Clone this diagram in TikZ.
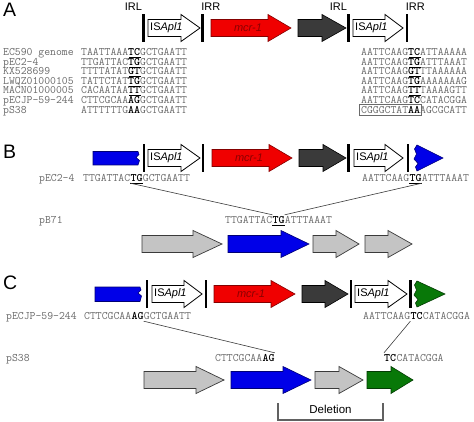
\documentclass[tikz,border=0pt]{standalone}
\usepackage{fontspec}
\setmainfont{Liberation Sans}
\usetikzlibrary{positioning}

\definecolor{clrSeq}{HTML}{6A6A6A}
\definecolor{clrRed}{HTML}{F00000}
\definecolor{clrMcr}{HTML}{8C0000}
\definecolor{clrDark}{HTML}{3A3A3A}
\definecolor{clrLight}{HTML}{C4C4C4}
\definecolor{clrBlue}{HTML}{0000E8}
\definecolor{clrGreen}{HTML}{087808}

\newcommand{\seqfont}{\fontsize{11.4}{11}\selectfont\ttfamily}
\newcommand{\hlb}[1]{\textbf{\color{black}#1}}
\newcommand{\GeneArrow}[5]{%
  \draw[#1] (#2,#5-8.5) -- (#3,#5-8.5) -- (#3,#5-13.5) -- (#4,#5)
    -- (#3,#5+13.5) -- (#3,#5+8.5) -- (#2,#5+8.5) -- cycle;}

\tikzset{
  isgene/.style    = {draw=black, fill=white, line width=0.8pt},
  mcrgene/.style   = {draw=clrRed!55!black, fill=clrRed, line width=0.6pt},
  darkgene/.style  = {draw=black, fill=clrDark, line width=0.6pt},
  graygene/.style  = {draw=clrDark, fill=clrLight, line width=0.7pt},
  bluegene/.style  = {draw=clrBlue!50!black, fill=clrBlue, line width=0.6pt},
  greengene/.style = {draw=clrGreen!50!black, fill=clrGreen, line width=0.6pt},
  bar/.style       = {fill=black, inner sep=0pt, minimum width=2.4pt, minimum height=28pt},
  irlab/.style     = {font=\fontsize{11}{11}\selectfont, inner sep=0pt},
  istext/.style    = {font=\fontsize{11}{11}\selectfont, inner sep=0pt, anchor=west},
  mcrtext/.style   = {font=\fontsize{11}{11}\selectfont, inner sep=0pt, text=clrMcr},
  panel/.style     = {font=\fontsize{19.5}{20}\selectfont, inner sep=0pt, anchor=north west},
  seq/.style       = {font=\seqfont, text=clrSeq, inner sep=0pt, text height=7pt,
                      text depth=0pt, anchor=base west},
  hl/.style        = {seq, font=\seqfont\bfseries, text=black, inner ysep=1.5pt},
  uline/.style     = {line width=0.8pt, black},
  link/.style      = {line width=0.6pt, clrDark},
  seqbox/.style    = {line width=0.6pt, clrSeq},
  bracket/.style   = {line width=1.2pt, clrDark!80},
  deltext/.style   = {font=\fontsize{11.5}{12}\selectfont, inner sep=0pt}
}

\begin{document}
\begin{tikzpicture}[x=1pt, y=-1pt]
\useasboundingbox (0,0) rectangle (474,422);

% panel A, genes

\node[panel] (pA) at (3,3) {A};

\GeneArrow{isgene}{148}{181}{200}{28}
\GeneArrow{mcrgene}{211}{268}{291}{28}
\GeneArrow{darkgene}{298}{322}{346}{28}
\GeneArrow{isgene}{353}{385}{403}{28}

\node[istext] (isA1) at (150,28) {IS\textit{Apl1}};
\node[istext] (isA2) at (355,28) {IS\textit{Apl1}};
\node[mcrtext] (mcrA) at (248,28) {\textit{mcr-1}};

\node[bar] (irlA1) at (143.5,28) {};
\node[bar] (irrA1) at (202.5,28) {};
\node[bar] (irlA2) at (348.5,28) {};
\node[bar] (irrA2) at (407,28) {};

\node[irlab, anchor=base east] (tIRL1) at ([yshift=3pt]irlA1.north west) {IRL};
\node[irlab, anchor=base west] (tIRR1) at ([yshift=3pt]irrA1.north west) {IRR};
\node[irlab, anchor=base east] (tIRL2) at ([yshift=3pt]irlA2.north west) {IRL};
\node[irlab, anchor=base west] (tIRR2) at ([yshift=3pt]irrA2.north west) {IRR};

% panel A, sequences

\node[seq] (nA1) at (3,55.5)  {EC590 genome};
\node[seq] (nA2) at (3,65.1)  {pEC2-4};
\node[seq] (nA3) at (3,74.7)  {KX528699};
\node[seq] (nA4) at (3,84.3)  {LWQZ01000105};
\node[seq] (nA5) at (3,93.9)  {MACN01000005};
\node[seq] (nA6) at (3,103.5) {pECJP-59-244};
\node[seq] (nA7) at (3,113.1) {pS38};

\node[seq] (lA1) at (81,55.5)  {TAATTAAA\hlb{TC}GCTGAATT};
\node[seq] (lA2) at (81,65.1)  {TTGATTAC\hlb{TG}GCTGAATT};
\node[seq] (lA3) at (81,74.7)  {TTTTATAT\hlb{GT}GCTGAATT};
\node[seq] (lA4) at (81,84.3)  {TATTCTAT\hlb{TG}GCTGAATT};
\node[seq] (lA5) at (81,93.9)  {CACAATAA\hlb{TT}GCTGAATT};
\node[seq] (lA6) at (81,103.5) {CTTCGCAA\hlb{AG}GCTGAATT};
\node[seq] (lA7) at (81,113.1) {ATTTTTTG\hlb{AA}GCTGAATT};

\node[seq] (rA1) at (361,55.5)  {AATTCAAG\hlb{TC}ATTAAAAA};
\node[seq] (rA2) at (361,65.1)  {AATTCAAG\hlb{TG}ATTTAAAT};
\node[seq] (rA3) at (361,74.7)  {AATTCAAG\hlb{GT}TTAAAAAA};
\node[seq] (rA4) at (361,84.3)  {AATTCAAG\hlb{TG}AAAAAAAG};
\node[seq] (rA5) at (361,93.9)  {AATTCAAG\hlb{TT}TAAAAGTT};
\node[seq] (rA6) at (361,103.5) {AATTCAAG\hlb{TC}CATACGGA};
\node[seq] (rA7) at (361,113.1) {CGGGCTAT\hlb{AA}AGCGCATT};

\draw[uline] ([xshift=48pt,yshift=-1.8pt]lA1.south west) -- ++(12,0);
\draw[uline] ([xshift=48pt,yshift=-1.8pt]lA2.south west) -- ++(12,0);
\draw[uline] ([xshift=48pt,yshift=-1.8pt]lA3.south west) -- ++(12,0);
\draw[uline] ([xshift=48pt,yshift=-1.8pt]lA4.south west) -- ++(12,0);
\draw[uline] ([xshift=48pt,yshift=-1.8pt]lA5.south west) -- ++(12,0);
\draw[uline] ([xshift=48pt,yshift=-1.8pt]rA1.south west) -- ++(12,0);
\draw[uline] ([xshift=48pt,yshift=-1.8pt]rA2.south west) -- ++(12,0);
\draw[uline] ([xshift=48pt,yshift=-1.8pt]rA3.south west) -- ++(12,0);
\draw[uline] ([xshift=48pt,yshift=-1.8pt]rA4.south west) -- ++(12,0);
\draw[uline] ([xshift=48pt,yshift=-1.8pt]rA5.south west) -- ++(12,0);

\draw[seqbox] ([xshift=-1.5pt,yshift=-2pt]rA7.south west) rectangle ([xshift=60.5pt,yshift=2pt]rA7.north west);

% panel B, genes

\node[panel] (pB) at (3,145) {B};

\draw[bluegene] (93,151.5) -- (138,151.5) -- (139,154.5) -- (136,157.5) -- (139.5,160.5) -- (138,165) -- (93,165) -- cycle;
\GeneArrow{isgene}{148}{181}{200}{158}
\GeneArrow{mcrgene}{212}{269}{292}{158}
\GeneArrow{darkgene}{299}{323}{346}{158}
\GeneArrow{isgene}{354}{385}{403}{158}
\draw[bluegene] (417,145) -- (443,158) -- (417,171) -- (415.5,167) -- (418,163.5) -- (414,159) -- (416.5,154) -- (414.5,149) -- cycle;

\node[istext] (isB1) at (150,158) {IS\textit{Apl1}};
\node[istext] (isB2) at (356,158) {IS\textit{Apl1}};
\node[mcrtext] (mcrB) at (249,158) {\textit{mcr-1}};

\node[bar] (irlB1) at (144,158) {};
\node[bar] (irrB1) at (203,158) {};
\node[bar] (irlB2) at (348.5,158) {};
\node[bar] (irrB2) at (408,158) {};

% panel B, sequences

\node[seq] (nB1) at (39,181.5) {pEC2-4};
\node[seq] (lB1a) at (83,181.5) {TTGATTAC};
\node[hl, right=0pt of lB1a] (lB1b) {TG};
\node[seq, right=0pt of lB1b] (lB1c) {GCTGAATT};
\node[seq] (rB1a) at (362,181.5) {AATTCAAG};
\node[hl, right=0pt of rB1a] (rB1b) {TG};
\node[seq, right=0pt of rB1b] (rB1c) {ATTTAAAT};

\node[seq] (nB2) at (39,223.5) {pB71};
\node[seq] (mB1a) at (225,223.5) {TTGATTAC};
\node[hl, right=0pt of mB1a] (mB1b) {TG};
\node[seq, right=0pt of mB1b] (mB1c) {ATTTAAAT};

\draw[uline] (lB1b.south west) -- (lB1b.south east);
\draw[uline] (rB1b.south west) -- (rB1b.south east);
\draw[uline] (mB1b.south west) -- (mB1b.south east);

\draw[link] (lB1b.south west) -- (mB1b.north west);
\draw[link] (rB1b.south east) -- (mB1b.north east);

% panel B, pB71

\GeneArrow{graygene}{142}{193}{222}{244}
\GeneArrow{bluegene}{228}{281}{309}{244}
\GeneArrow{graygene}{313}{336}{359}{244}
\GeneArrow{graygene}{365}{388}{412}{244}

% panel C, genes

\node[panel] (pC) at (3,276) {C};

\draw[bluegene] (95,287) -- (140,287) -- (141,290) -- (138,293) -- (141.5,296) -- (140,301.5) -- (95,301.5) -- cycle;
\GeneArrow{isgene}{152}{184}{202}{294}
\GeneArrow{mcrgene}{214}{271}{295}{294}
\GeneArrow{darkgene}{302}{325}{348}{294}
\GeneArrow{isgene}{355}{388}{407}{294}
\draw[greengene] (417,281) -- (445,294) -- (417,307) -- (415.5,303) -- (418,299.5) -- (414,295) -- (416.5,290) -- (414.5,285) -- cycle;

\node[istext] (isC1) at (154,294) {IS\textit{Apl1}};
\node[istext] (isC2) at (357,294) {IS\textit{Apl1}};
\node[mcrtext] (mcrC) at (251,294) {\textit{mcr-1}};

\node[bar] (irlC1) at (147,294) {};
\node[bar] (irrC1) at (206,294) {};
\node[bar] (irlC2) at (351,294) {};
\node[bar] (irrC2) at (410.5,294) {};

% panel C, sequences

\node[seq] (nC1) at (6,319.5) {pECJP-59-244};
\node[seq] (lC1a) at (84,319.5) {CTTCGCAA};
\node[hl, right=0pt of lC1a] (lC1b) {AG};
\node[seq, right=0pt of lC1b] (lC1c) {GCTGAATT};
\node[seq] (rC1a) at (363,319.5) {AATTCAAG};
\node[hl, right=0pt of rC1a] (rC1b) {TC};
\node[seq, right=0pt of rC1b] (rC1c) {CATACGGA};

\node[seq] (nC2) at (6,361.5) {pS38};
\node[seq] (mC1a) at (215,361.5) {CTTCGCAA};
\node[hl, right=0pt of mC1a] (mC1b) {AG};
\node[hl] (mC2a) at (384,361.5) {TC};
\node[seq, right=0pt of mC2a] (mC2b) {CATACGGA};

\draw[link] (lC1b.south east) -- (mC1b.north east);
\draw[link] (rC1b.south west) -- (mC2a.north west);

% panel C, pS38

\GeneArrow{graygene}{144}{196}{224}{380}
\GeneArrow{bluegene}{231}{283}{311}{380}
\GeneArrow{graygene}{315}{339}{363}{380}
\GeneArrow{greengene}{367}{391}{413}{380}

\coordinate (delL) at (278,403);
\coordinate (delR) at (383,403);
\draw[bracket] (delL) -- ++(0,17) -| (delR);
\node[deltext] (del) at (330.5,409) {Deletion};

\end{tikzpicture}
\end{document}
